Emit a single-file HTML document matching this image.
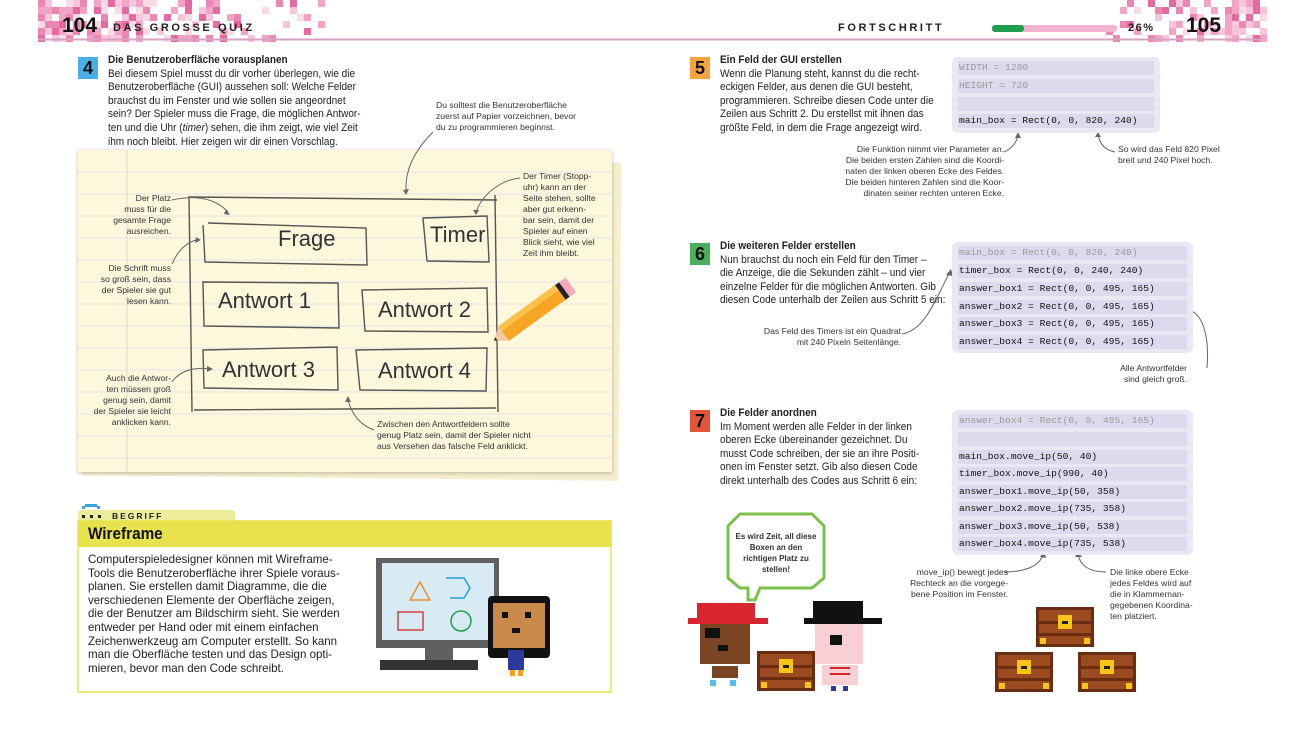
<!DOCTYPE html>
<html><head><meta charset="utf-8">
<style>
*{margin:0;padding:0;box-sizing:border-box}
body{width:1300px;height:731px;background:#fff;position:relative;overflow:hidden;font-family:"Liberation Sans",sans-serif;color:#222}
.a{position:absolute}
.t{font-size:11px;line-height:13.6px;white-space:nowrap;transform:scaleX(.91);transform-origin:0 0}
.h{font-weight:bold;font-size:11px}
.n{font-size:8.6px;line-height:11px;color:#333;white-space:nowrap}
.r{text-align:right}
.badge{position:absolute;width:20px;height:22px;font-weight:bold;font-size:18px;line-height:22px;text-align:center;color:#111}
.code{position:absolute;background:#ebe8f4;border-radius:6px}
.cl{position:absolute;left:6px;right:6px;height:14px;background:#dedaee;font-family:"Liberation Mono",monospace;font-size:9.6px;line-height:14px;color:#111;white-space:pre;padding-left:1px}
.g{color:#999}
.hw{font-family:"Liberation Sans",sans-serif;font-size:22px;fill:#333}
</style></head><body>
<svg class="a" style="left:0;top:0" width="1300" height="731">
<g id="px"></g>
<line x1="38" y1="39.5" x2="1262" y2="39.5" stroke="#d8a2c2" stroke-width="2"/>
<rect x="992" y="25" width="125" height="7" rx="3" fill="#f2b3d2"/>
<rect x="992" y="25" width="32" height="7" rx="3" fill="#1f9e50"/>
<rect x="84" y="160" width="536" height="318" fill="#f6efcf" transform="rotate(0.6 350 320)"/>
<rect x="78" y="150" width="534" height="322" fill="#fdf7dc" style="filter:drop-shadow(0 1px 2px rgba(0,0,0,.25))"/>
<g stroke="#e3e6ea" stroke-width="1">
<line x1="78" y1="172" x2="612" y2="172"/><line x1="78" y1="194" x2="612" y2="194"/><line x1="78" y1="216" x2="612" y2="216"/><line x1="78" y1="238" x2="612" y2="238"/><line x1="78" y1="260" x2="612" y2="260"/><line x1="78" y1="282" x2="612" y2="282"/><line x1="78" y1="304" x2="612" y2="304"/><line x1="78" y1="326" x2="612" y2="326"/><line x1="78" y1="348" x2="612" y2="348"/><line x1="78" y1="370" x2="612" y2="370"/><line x1="78" y1="392" x2="612" y2="392"/><line x1="78" y1="414" x2="612" y2="414"/><line x1="78" y1="436" x2="612" y2="436"/><line x1="78" y1="458" x2="612" y2="458"/>
</g>
<line x1="127" y1="150" x2="127" y2="472" stroke="#f1d2d6"/>
<g fill="none" stroke="#555" stroke-width="1.4">
<path d="M190 197 L497 200 M189 196 L192 412 M194 410 L496 408 M495 195 L498 412"/>
<path d="M203 225 L205 262 L367 265 L366 228 L208 223"/>
<path d="M423 218 L487 216 L489 262 L427 261 Z"/>
<path d="M203 282 L338 283 L339 328 L204 326 Z"/>
<path d="M362 290 L487 288 L488 332 L365 331 Z"/>
<path d="M203 350 L337 347 L338 390 L204 388 Z"/>
<path d="M356 350 L487 348 L486 391 L360 390 Z"/>
</g>
<text class="hw" x="278" y="246">Frage</text>
<text class="hw" x="430" y="242">Timer</text>
<text class="hw" x="218" y="308">Antwort 1</text>
<text class="hw" x="378" y="317">Antwort 2</text>
<text class="hw" x="222" y="377">Antwort 3</text>
<text class="hw" x="378" y="378">Antwort 4</text>
<g transform="rotate(-36 532 313)">
<rect x="497" y="304" width="70" height="18" fill="#f6a623"/>
<rect x="497" y="304" width="70" height="6" fill="#f9c04a"/>
<rect x="567" y="304" width="5" height="18" fill="#222"/>
<rect x="572" y="304" width="8" height="18" fill="#f2a8bd"/>
<polygon points="497,304 485,313 497,322" fill="#f2c9a0"/>
<polygon points="488,311 485,313 488,315" fill="#222"/>
</g>
<g fill="none" stroke="#666" stroke-width="1">
<path d="M433 132 C415 150 405 170 406 190"/>
<path d="M172 200 C195 195 215 198 228 212"/>
<path d="M172 264 C178 250 186 243 196 240"/>
<path d="M172 382 C180 370 195 367 210 369"/>
<path d="M520 178 C500 180 482 195 476 212"/>
<path d="M374 430 C360 425 352 415 348 400"/>
<path d="M1004 152 C1008 150 1016 146 1018 135"/>
<path d="M1115 152 C1105 150 1100 145 1098 134"/>
<path d="M902 334 C925 330 935 300 950 272"/>
<path d="M1183 283 L1188 283 L1188 348 L1183 348 M1188 310 C1200 312 1210 330 1207 368"/>
<path d="M1004 572 C1020 572 1040 568 1043 554"/>
<path d="M1106 572 C1090 572 1080 566 1078 554"/>
</g>
<g fill="#666">
<path d="M403 190 L406 195 L409 189Z"/><path d="M226 209 L230 215 L224 214Z"/><path d="M196 237 L201 240 L195 243Z"/>
<path d="M207 366 L213 369 L207 372Z"/><path d="M473 210 L476 215 L479 210Z"/><path d="M345 402 L348 396 L351 402Z"/>
<path d="M1015 138 L1018 132 L1021 138Z"/><path d="M1095 137 L1098 132 L1101 137Z"/><path d="M946 275 L951 269 L953 276Z"/>
<path d="M1040 557 L1044 551 L1046 558Z"/><path d="M1075 557 L1078 551 L1082 557Z"/>
</g>
<rect x="78" y="510" width="157" height="12" rx="3" fill="#ecec9a"/>
<rect x="78" y="521" width="533" height="171" fill="#fff" stroke="#e8e34c" stroke-width="1.5"/>
<rect x="78" y="521" width="533" height="26" fill="#e8e34c"/>
<g fill="#3aa3dc"><rect x="82" y="506" width="3" height="3"/><rect x="85" y="504" width="12" height="3"/><rect x="97" y="506" width="3" height="3"/></g>
<g fill="#222"><rect x="82" y="515" width="3" height="3"/><rect x="90" y="515" width="3" height="3"/><rect x="98" y="515" width="3" height="3"/></g>
<rect x="376" y="558" width="123" height="90" fill="#606060"/>
<rect x="382" y="563" width="112" height="77" fill="#d8ebf5"/>
<path d="M410 600 L420 582 L430 600Z" fill="none" stroke="#e4922d" stroke-width="1.5"/>
<path d="M446 578 L464 578 L470 588 L464 598 L450 598" fill="none" stroke="#2b9bd6" stroke-width="1.5"/>
<rect x="398" y="612" width="25" height="18" fill="none" stroke="#d34040" stroke-width="1.5"/>
<circle cx="461" cy="621" r="10" fill="none" stroke="#1f9e50" stroke-width="1.5"/>
<rect x="425" y="648" width="28" height="12" fill="#606060"/>
<rect x="380" y="660" width="98" height="10" fill="#333"/>
<rect x="488" y="596" width="62" height="62" fill="#111" rx="4"/>
<rect x="493" y="603" width="52" height="45" fill="#c98a4b"/>
<rect x="502" y="612" width="6" height="6" fill="#111"/><rect x="525" y="612" width="6" height="6" fill="#111"/><rect x="512" y="628" width="8" height="5" fill="#111"/>
<rect x="508" y="650" width="16" height="20" fill="#2c3a9a"/><rect x="510" y="670" width="5" height="6" fill="#f4a023"/><rect x="518" y="670" width="5" height="6" fill="#f4a023"/>
<path d="M740 514 L812 514 L824 526 L824 578 L812 588 L760 588 L755 600 L748 600 L748 588 L740 588 L728 578 L728 526 Z" fill="#fff" stroke="#7cc04a" stroke-width="3"/>
<g>
<rect x="697" y="603" width="58" height="20" fill="#d8262e"/><rect x="688" y="618" width="80" height="6" fill="#d8262e"/>
<rect x="700" y="624" width="50" height="40" fill="#7a4523"/><rect x="705" y="628" width="15" height="10" fill="#111"/><rect x="718" y="645" width="10" height="6" fill="#111"/>
<rect x="712" y="666" width="26" height="12" fill="#7a4523"/><rect x="710" y="680" width="6" height="6" fill="#56c1e8"/><rect x="730" y="680" width="6" height="6" fill="#56c1e8"/>
<rect x="813" y="601" width="50" height="20" fill="#111"/><rect x="804" y="618" width="78" height="6" fill="#111"/>
<rect x="815" y="624" width="48" height="40" fill="#f8cfd2"/><rect x="830" y="635" width="12" height="10" fill="#111"/>
<rect x="822" y="665" width="36" height="20" fill="#f8cfd2"/><rect x="830" y="667" width="20" height="2" fill="#d8262e"/><rect x="830" y="673" width="20" height="2" fill="#d8262e"/><rect x="831" y="686" width="5" height="5" fill="#2c3a9a"/><rect x="843" y="686" width="5" height="5" fill="#2c3a9a"/>
</g>
<g id="chests"></g>
</svg>
<script>
(function(){
var s="http://www.w3.org/2000/svg",g=document.getElementById('px'),seed=7;
function R(){seed=(seed*9301+49297)%233280;return seed/233280;}
var cols=['#f7c6dc','#f2a4c7','#ec86b3','#e56aa1','#f9dbe8'];
function band(x0,x1,dir){for(var x=x0;x<x1;x+=7)for(var y=0;y<39;y+=7){var f=dir>0?(x-x0)/(x1-x0):(x1-x)/(x1-x0);if(R()<f*0.8+0.03){var r=document.createElementNS(s,'rect');r.setAttribute('x',x);r.setAttribute('y',y);r.setAttribute('width',7);r.setAttribute('height',7);r.setAttribute('fill',cols[Math.floor(R()*5)]);g.appendChild(r);}}}
band(38,330,-1);band(1085,1262,1);
var c=document.getElementById('chests');
function chest(x,y){var h='<rect x="'+x+'" y="'+y+'" width="58" height="40" fill="#6b2d12"/><rect x="'+(x+3)+'" y="'+(y+3)+'" width="52" height="34" fill="#9c4a20"/><rect x="'+(x+3)+'" y="'+(y+14)+'" width="52" height="3" fill="#6b2d12"/><rect x="'+(x+3)+'" y="'+(y+26)+'" width="52" height="3" fill="#6b2d12"/><rect x="'+(x+22)+'" y="'+(y+8)+'" width="14" height="14" fill="#f5c518"/><rect x="'+(x+26)+'" y="'+(y+14)+'" width="6" height="3" fill="#222"/><rect x="'+(x+4)+'" y="'+(y+31)+'" width="6" height="6" fill="#f5c518"/><rect x="'+(x+48)+'" y="'+(y+31)+'" width="6" height="6" fill="#f5c518"/>';c.insertAdjacentHTML('beforeend',h);}
chest(757,651);chest(1036,607);chest(995,652);chest(1078,652);
})();
</script>

<div class="a" style="left:62px;top:14px;font-weight:bold;font-size:21px;color:#111">104</div>
<div class="a" style="left:113px;top:22px;font-weight:bold;font-size:11px;letter-spacing:2.6px;color:#222">DAS GROSSE QUIZ</div>
<div class="a" style="left:838px;top:22px;font-weight:bold;font-size:11px;letter-spacing:2.6px;color:#222">FORTSCHRITT</div>
<div class="a" style="left:1128px;top:22px;font-weight:bold;font-size:11px;letter-spacing:1.5px;color:#222">26%</div>
<div class="a" style="left:1186px;top:14px;font-weight:bold;font-size:21px;color:#111">105</div>

<div class="badge" style="left:78px;top:57px;background:#48b0e6">4</div>
<div class="a t" style="left:108px;top:54px"><span class="h">Die Benutzeroberfläche vorausplanen</span><br>Bei diesem Spiel musst du dir vorher überlegen, wie die<br>Benutzeroberfläche (GUI) aussehen soll: Welche Felder<br>brauchst du im Fenster und wie sollen sie angeordnet<br>sein? Der Spieler muss die Frage, die möglichen Antwor-<br>ten und die Uhr (<i>timer</i>) sehen, die ihm zeigt, wie viel Zeit<br>ihm noch bleibt. Hier zeigen wir dir einen Vorschlag.</div>
<div class="a n" style="left:436px;top:100px">Du solltest die Benutzeroberfläche<br>zuerst auf Papier vorzeichnen, bevor<br>du zu programmieren beginnst.</div>
<div class="a n r" style="left:90px;top:193px;width:81px">Der Platz<br>muss für die<br>gesamte Frage<br>ausreichen.</div>
<div class="a n r" style="left:80px;top:263px;width:91px">Die Schrift muss<br>so groß sein, dass<br>der Spieler sie gut<br>lesen kann.</div>
<div class="a n r" style="left:80px;top:373px;width:91px">Auch die Antwor-<br>ten müssen groß<br>genug sein, damit<br>der Spieler sie leicht<br>anklicken kann.</div>
<div class="a n" style="left:523px;top:171px">Der Timer (Stopp-<br>uhr) kann an der<br>Seite stehen, sollte<br>aber gut erkenn-<br>bar sein, damit der<br>Spieler auf einen<br>Blick sieht, wie viel<br>Zeit ihm bleibt.</div>
<div class="a n" style="left:377px;top:419px">Zwischen den Antwortfeldern sollte<br>genug Platz sein, damit der Spieler nicht<br>aus Versehen das falsche Feld anklickt.</div>

<div class="a" style="left:112px;top:510px;font-weight:bold;font-size:8.5px;letter-spacing:2px;line-height:12px">BEGRIFF</div>
<div class="a" style="left:88px;top:524px;font-weight:bold;font-size:17px;line-height:20px;color:#111;transform:scaleX(.9);transform-origin:0 0">Wireframe</div>
<div class="a" style="left:88px;top:553px;font-size:12px;line-height:13.6px;white-space:nowrap;transform:scaleX(.96);transform-origin:0 0">Computerspieledesigner können mit Wireframe-<br>Tools die Benutzeroberfläche ihrer Spiele voraus-<br>planen. Sie erstellen damit Diagramme, die die<br>verschiedenen Elemente der Oberfläche zeigen,<br>die der Benutzer am Bildschirm sieht. Sie werden<br>entweder per Hand oder mit einem einfachen<br>Zeichenwerkzeug am Computer erstellt. So kann<br>man die Oberfläche testen und das Design opti-<br>mieren, bevor man den Code schreibt.</div>

<div class="badge" style="left:690px;top:57px;background:#f4a340">5</div>
<div class="a t" style="left:720px;top:54px"><span class="h">Ein Feld der GUI erstellen</span><br>Wenn die Planung steht, kannst du die recht-<br>eckigen Felder, aus denen die GUI besteht,<br>programmieren. Schreibe diesen Code unter die<br>Zeilen aus Schritt 2. Du erstellst mit ihnen das<br>größte Feld, in dem die Frage angezeigt wird.</div>
<div class="code" style="left:952px;top:57px;width:208px;height:76px">
<div class="cl g" style="top:4px">WIDTH = 1280</div>
<div class="cl g" style="top:22px">HEIGHT = 720</div>
<div class="cl" style="top:40px"></div>
<div class="cl" style="top:57px">main_box = Rect(0, 0, 820, 240)</div>
</div>
<div class="a n r" style="left:800px;top:144px;width:204px">Die Funktion nimmt vier Parameter an.<br>Die beiden ersten Zahlen sind die Koordi-<br>naten der linken oberen Ecke des Feldes.<br>Die beiden hinteren Zahlen sind die Koor-<br>dinaten seiner rechten unteren Ecke.</div>
<div class="a n" style="left:1118px;top:144px">So wird das Feld 820 Pixel<br>breit und 240 Pixel hoch.</div>

<div class="badge" style="left:690px;top:243px;background:#4cae5a">6</div>
<div class="a t" style="left:720px;top:240px"><span class="h">Die weiteren Felder erstellen</span><br>Nun brauchst du noch ein Feld für den Timer –<br>die Anzeige, die die Sekunden zählt – und vier<br>einzelne Felder für die möglichen Antworten. Gib<br>diesen Code unterhalb der Zeilen aus Schritt 5 ein:</div>
<div class="code" style="left:952px;top:242px;width:241px;height:111px">
<div class="cl g" style="top:4px">main_box = Rect(0, 0, 820, 240)</div>
<div class="cl" style="top:22px">timer_box = Rect(0, 0, 240, 240)</div>
<div class="cl" style="top:40px">answer_box1 = Rect(0, 0, 495, 165)</div>
<div class="cl" style="top:58px">answer_box2 = Rect(0, 0, 495, 165)</div>
<div class="cl" style="top:75px">answer_box3 = Rect(0, 0, 495, 165)</div>
<div class="cl" style="top:93px">answer_box4 = Rect(0, 0, 495, 165)</div>
</div>
<div class="a n r" style="left:720px;top:326px;width:181px">Das Feld des Timers ist ein Quadrat<br>mit 240 Pixeln Seitenlänge.</div>
<div class="a n r" style="left:1080px;top:363px;width:107px">Alle Antwortfelder<br>sind gleich groß.</div>

<div class="badge" style="left:690px;top:410px;background:#e2553a">7</div>
<div class="a t" style="left:720px;top:407px"><span class="h">Die Felder anordnen</span><br>Im Moment werden alle Felder in der linken<br>oberen Ecke übereinander gezeichnet. Du<br>musst Code schreiben, der sie an ihre Positi-<br>onen im Fenster setzt. Gib also diesen Code<br>direkt unterhalb des Codes aus Schritt 6 ein:</div>
<div class="code" style="left:952px;top:410px;width:241px;height:145px">
<div class="cl g" style="top:4px">answer_box4 = Rect(0, 0, 495, 165)</div>
<div class="cl" style="top:22px"></div>
<div class="cl" style="top:40px">main_box.move_ip(50, 40)</div>
<div class="cl" style="top:57px">timer_box.move_ip(990, 40)</div>
<div class="cl" style="top:75px">answer_box1.move_ip(50, 358)</div>
<div class="cl" style="top:92px">answer_box2.move_ip(735, 358)</div>
<div class="cl" style="top:110px">answer_box3.move_ip(50, 538)</div>
<div class="cl" style="top:127px">answer_box4.move_ip(735, 538)</div>
</div>
<div class="a n r" style="left:860px;top:567px;width:148px">move_ip() bewegt jedes<br>Rechteck an die vorgege-<br>bene Position im Fenster.</div>
<div class="a n" style="left:1110px;top:567px">Die linke obere Ecke<br>jedes Feldes wird auf<br>die in Klammernan-<br>gegebenen Koordina-<br>ten platziert.</div>
<div class="a" style="left:733px;top:531px;width:86px;font-size:8px;line-height:11px;text-align:center;font-weight:bold;color:#333">Es wird Zeit, all diese Boxen an den richtigen Platz zu stellen!</div>
</body></html>
